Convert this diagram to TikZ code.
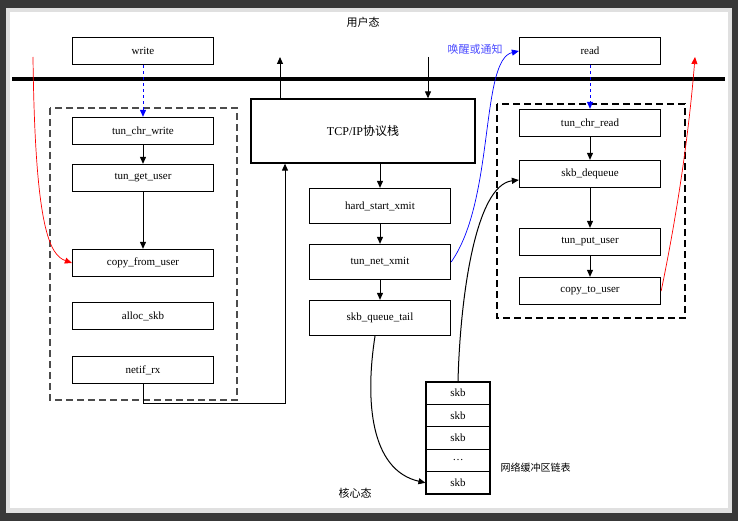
\documentclass[tikz,border=0pt]{standalone}
\usepackage{fontspec}
\setmainfont{Liberation Serif}
\newfontfamily\cjk{Noto Sans CJK SC}
\usetikzlibrary{arrows.meta}
\tikzset{
  fn/.style={draw, line width=1.3pt, minimum width=141pt, minimum height=27pt, inner sep=0pt, font=\fontsize{11}{12}\selectfont},
  cell/.style={draw, line width=1.1pt, minimum width=64pt, minimum height=22.4pt, inner sep=0pt, font=\fontsize{11}{12}\selectfont},
  grp/.style={draw, line width=1.3pt, dashed, dash pattern=on 7pt off 4pt, gray!60!black},
  ar/.style={-{Triangle[length=7pt,width=6pt]}, line width=1pt},
}
\begin{document}
\begin{tikzpicture}[x=1pt,y=-1pt]
  \fill[black!78] (0,0) rectangle (738,521);
  \fill[black!12] (6,8) rectangle (732,513);
  \fill[white] (10,12) rectangle (728,508);
  \useasboundingbox (0,0) rectangle (738,521);
  % dashed groups
  \draw[grp] (50,108) rectangle (237,400);
  \draw[grp, black] (497,104) rectangle (685,318);
  % user / kernel border
  \draw[line width=3.5pt] (12,79) -- (725,79);
  % write side
  \node[fn] (write) at (143,51) {write};
  \node[fn] (chrwrite) at (143,131) {tun\_chr\_write};
  \node[fn] (getuser) at (143,178) {tun\_get\_user};
  \node[fn] (fromuser) at (143,263) {copy\_from\_user};
  \node[fn] (alloc) at (143,316) {alloc\_skb};
  \node[fn] (netif) at (143,370) {netif\_rx};
  % stack
  \node[draw, line width=1.3pt, minimum width=224pt, minimum height=64pt, inner sep=0pt, font=\fontsize{12}{13}\selectfont] (tcp) at (363,131) {TCP/IP{\cjk 协议栈}};
  \node[fn, minimum height=35pt] (hard) at (380,206) {hard\_start\_xmit};
  \node[fn, minimum height=35pt] (netxmit) at (380,262) {tun\_net\_xmit};
  \node[fn, minimum height=35pt] (qtail) at (380,318) {skb\_queue\_tail};
  % read side
  \node[fn] (read) at (590,51) {read};
  \node[fn] (chrread) at (590,123) {tun\_chr\_read};
  \node[fn] (deq) at (590,174) {skb\_dequeue};
  \node[fn] (putuser) at (590,242) {tun\_put\_user};
  \node[fn] (touser) at (590,291) {copy\_to\_user};
  % buffer list
  \foreach \i/\t in {0/skb,1/skb,2/skb,3/\dots,4/skb}
    \node[cell] (skb-\i) at (458,393.2+22.4*\i) {\t};
  % labels
  \node[font=\cjk\fontsize{11}{12}\selectfont] (user) at (363,22) {用户态};
  \node[font=\cjk\fontsize{11}{12}\selectfont] (kernel) at (355,493) {核心态};
  \node[font=\cjk\fontsize{10}{11}\selectfont, anchor=west] (list) at (497,468) {网络缓冲区链表};
  \node[font=\cjk\fontsize{11}{12}\selectfont, text=blue!70!white] (wake) at (475,49) {唤醒或通知};
  \coordinate (upend) at (280,57);
  \coordinate (downstart) at (428,57);
  \coordinate (redin) at (33,57);
  \coordinate (redout) at (695,57);
  % connectors
  \draw[ar, blue, dashed] (write) -- (chrwrite);
  \draw[ar, blue, dashed] (read) -- (chrread);
  \draw[ar] (chrwrite) -- (getuser);
  \draw[ar] (getuser) -- (fromuser);
  \draw[ar] (netif.south) -- ++(0,19) -| (tcp.south -| 285,0);
  \draw[ar] (tcp.north -| upend) -- (upend);
  \draw[ar] (downstart) -- (tcp.north -| downstart);
  \draw[ar] (tcp.south -| hard) -- (hard);
  \draw[ar] (hard) -- (netxmit);
  \draw[ar] (netxmit) -- (qtail);
  \draw[ar] (chrread) -- (deq);
  \draw[ar] (deq) -- (putuser);
  \draw[ar] (putuser) -- (touser);
  \draw[ar, red, line width=0.7pt] (redin) .. controls (35,230) and (50,255) .. (fromuser.west);
  \draw[ar, red, line width=0.7pt] (touser.east) .. controls (680,200) and (690,120) .. (redout);
  \draw[ar, blue, line width=0.7pt] (netxmit.east) .. controls (495,200) and (480,60) .. (read.west);
  \draw[ar] (skb-0.north) .. controls (460,300) and (475,185) .. (deq.west |- 0,180);
  \draw[ar] (qtail.south -| 375,0) .. controls (365,400) and (370,470) .. (skb-4.west);
\end{tikzpicture}
\end{document}
